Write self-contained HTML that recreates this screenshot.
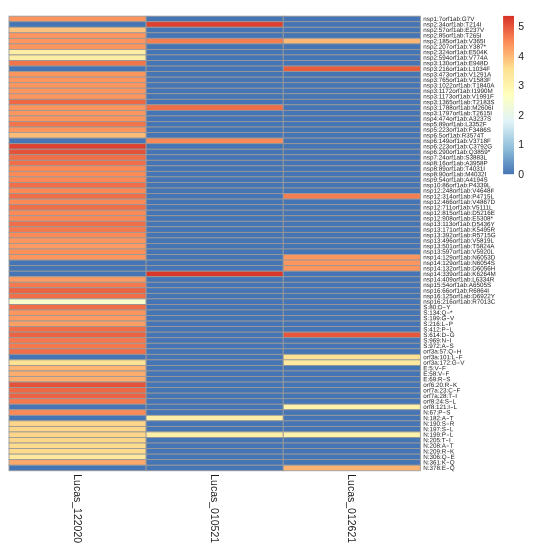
<!DOCTYPE html>
<html lang="en">
<head>
<meta charset="utf-8">
<title>Heatmap</title>
<style>
html,body{margin:0;padding:0;background:#fff;}
body{width:538px;height:550px;overflow:hidden;}
svg{display:block;}
text{font-family:"Liberation Sans",sans-serif;fill:#1c1c1c;}
.rl{font-size:6.3px;}
.cl{font-size:10.5px;}
.lg{font-size:10.5px;}
</style>
</head>
<body>
<svg width="538" height="550" viewBox="0 0 538 550">
<rect x="0" y="0" width="538" height="550" fill="#ffffff"/>
<g stroke="#999999" stroke-width="0.85">
<rect x="9.00" y="16.15" width="137.12" height="5.54" fill="#FC955E"/>
<rect x="146.12" y="16.15" width="137.12" height="5.54" fill="#4575B4"/>
<rect x="283.23" y="16.15" width="137.12" height="5.54" fill="#4575B4"/>
<rect x="9.00" y="21.69" width="137.12" height="5.54" fill="#4575B4"/>
<rect x="146.12" y="21.69" width="137.12" height="5.54" fill="#DE4130"/>
<rect x="283.23" y="21.69" width="137.12" height="5.54" fill="#4575B4"/>
<rect x="9.00" y="27.24" width="137.12" height="5.54" fill="#FDC27C"/>
<rect x="146.12" y="27.24" width="137.12" height="5.54" fill="#4575B4"/>
<rect x="283.23" y="27.24" width="137.12" height="5.54" fill="#4575B4"/>
<rect x="9.00" y="32.78" width="137.12" height="5.54" fill="#FC955E"/>
<rect x="146.12" y="32.78" width="137.12" height="5.54" fill="#4575B4"/>
<rect x="283.23" y="32.78" width="137.12" height="5.54" fill="#4575B4"/>
<rect x="9.00" y="38.33" width="137.12" height="5.54" fill="#FC955E"/>
<rect x="146.12" y="38.33" width="137.12" height="5.54" fill="#F67F51"/>
<rect x="283.23" y="38.33" width="137.12" height="5.54" fill="#FDB875"/>
<rect x="9.00" y="43.87" width="137.12" height="5.54" fill="#FC955E"/>
<rect x="146.12" y="43.87" width="137.12" height="5.54" fill="#4575B4"/>
<rect x="283.23" y="43.87" width="137.12" height="5.54" fill="#4575B4"/>
<rect x="9.00" y="49.41" width="137.12" height="5.54" fill="#FEEDA4"/>
<rect x="146.12" y="49.41" width="137.12" height="5.54" fill="#4575B4"/>
<rect x="283.23" y="49.41" width="137.12" height="5.54" fill="#4575B4"/>
<rect x="9.00" y="54.96" width="137.12" height="5.54" fill="#FEEDA4"/>
<rect x="146.12" y="54.96" width="137.12" height="5.54" fill="#4575B4"/>
<rect x="283.23" y="54.96" width="137.12" height="5.54" fill="#4575B4"/>
<rect x="9.00" y="60.50" width="137.12" height="5.54" fill="#F2744B"/>
<rect x="146.12" y="60.50" width="137.12" height="5.54" fill="#4575B4"/>
<rect x="283.23" y="60.50" width="137.12" height="5.54" fill="#4575B4"/>
<rect x="9.00" y="66.05" width="137.12" height="5.54" fill="#4575B4"/>
<rect x="146.12" y="66.05" width="137.12" height="5.54" fill="#4575B4"/>
<rect x="283.23" y="66.05" width="137.12" height="5.54" fill="#E95D3F"/>
<rect x="9.00" y="71.59" width="137.12" height="5.54" fill="#FC955E"/>
<rect x="146.12" y="71.59" width="137.12" height="5.54" fill="#4575B4"/>
<rect x="283.23" y="71.59" width="137.12" height="5.54" fill="#4575B4"/>
<rect x="9.00" y="77.13" width="137.12" height="5.54" fill="#FC955E"/>
<rect x="146.12" y="77.13" width="137.12" height="5.54" fill="#4575B4"/>
<rect x="283.23" y="77.13" width="137.12" height="5.54" fill="#4575B4"/>
<rect x="9.00" y="82.68" width="137.12" height="5.54" fill="#FC955E"/>
<rect x="146.12" y="82.68" width="137.12" height="5.54" fill="#4575B4"/>
<rect x="283.23" y="82.68" width="137.12" height="5.54" fill="#4575B4"/>
<rect x="9.00" y="88.22" width="137.12" height="5.54" fill="#FC955E"/>
<rect x="146.12" y="88.22" width="137.12" height="5.54" fill="#4575B4"/>
<rect x="283.23" y="88.22" width="137.12" height="5.54" fill="#4575B4"/>
<rect x="9.00" y="93.77" width="137.12" height="5.54" fill="#FC955E"/>
<rect x="146.12" y="93.77" width="137.12" height="5.54" fill="#4575B4"/>
<rect x="283.23" y="93.77" width="137.12" height="5.54" fill="#4575B4"/>
<rect x="9.00" y="99.31" width="137.12" height="5.54" fill="#ED6845"/>
<rect x="146.12" y="99.31" width="137.12" height="5.54" fill="#4575B4"/>
<rect x="283.23" y="99.31" width="137.12" height="5.54" fill="#4575B4"/>
<rect x="9.00" y="104.85" width="137.12" height="5.54" fill="#FC955E"/>
<rect x="146.12" y="104.85" width="137.12" height="5.54" fill="#F06E48"/>
<rect x="283.23" y="104.85" width="137.12" height="5.54" fill="#4575B4"/>
<rect x="9.00" y="110.40" width="137.12" height="5.54" fill="#FC955E"/>
<rect x="146.12" y="110.40" width="137.12" height="5.54" fill="#4575B4"/>
<rect x="283.23" y="110.40" width="137.12" height="5.54" fill="#4575B4"/>
<rect x="9.00" y="115.94" width="137.12" height="5.54" fill="#FC955E"/>
<rect x="146.12" y="115.94" width="137.12" height="5.54" fill="#4575B4"/>
<rect x="283.23" y="115.94" width="137.12" height="5.54" fill="#4575B4"/>
<rect x="9.00" y="121.49" width="137.12" height="5.54" fill="#F2744B"/>
<rect x="146.12" y="121.49" width="137.12" height="5.54" fill="#4575B4"/>
<rect x="283.23" y="121.49" width="137.12" height="5.54" fill="#4575B4"/>
<rect x="9.00" y="127.03" width="137.12" height="5.54" fill="#FC955E"/>
<rect x="146.12" y="127.03" width="137.12" height="5.54" fill="#4575B4"/>
<rect x="283.23" y="127.03" width="137.12" height="5.54" fill="#4575B4"/>
<rect x="9.00" y="132.57" width="137.12" height="5.54" fill="#FDBD79"/>
<rect x="146.12" y="132.57" width="137.12" height="5.54" fill="#4575B4"/>
<rect x="283.23" y="132.57" width="137.12" height="5.54" fill="#4575B4"/>
<rect x="9.00" y="138.12" width="137.12" height="5.54" fill="#4575B4"/>
<rect x="146.12" y="138.12" width="137.12" height="5.54" fill="#FB8A57"/>
<rect x="283.23" y="138.12" width="137.12" height="5.54" fill="#4575B4"/>
<rect x="9.00" y="143.66" width="137.12" height="5.54" fill="#DE4130"/>
<rect x="146.12" y="143.66" width="137.12" height="5.54" fill="#4575B4"/>
<rect x="283.23" y="143.66" width="137.12" height="5.54" fill="#4575B4"/>
<rect x="9.00" y="149.21" width="137.12" height="5.54" fill="#E45239"/>
<rect x="146.12" y="149.21" width="137.12" height="5.54" fill="#4575B4"/>
<rect x="283.23" y="149.21" width="137.12" height="5.54" fill="#4575B4"/>
<rect x="9.00" y="154.75" width="137.12" height="5.54" fill="#F06E48"/>
<rect x="146.12" y="154.75" width="137.12" height="5.54" fill="#4575B4"/>
<rect x="283.23" y="154.75" width="137.12" height="5.54" fill="#4575B4"/>
<rect x="9.00" y="160.29" width="137.12" height="5.54" fill="#F06E48"/>
<rect x="146.12" y="160.29" width="137.12" height="5.54" fill="#4575B4"/>
<rect x="283.23" y="160.29" width="137.12" height="5.54" fill="#4575B4"/>
<rect x="9.00" y="165.84" width="137.12" height="5.54" fill="#FB8A57"/>
<rect x="146.12" y="165.84" width="137.12" height="5.54" fill="#4575B4"/>
<rect x="283.23" y="165.84" width="137.12" height="5.54" fill="#4575B4"/>
<rect x="9.00" y="171.38" width="137.12" height="5.54" fill="#FB8A57"/>
<rect x="146.12" y="171.38" width="137.12" height="5.54" fill="#4575B4"/>
<rect x="283.23" y="171.38" width="137.12" height="5.54" fill="#4575B4"/>
<rect x="9.00" y="176.93" width="137.12" height="5.54" fill="#FB8A57"/>
<rect x="146.12" y="176.93" width="137.12" height="5.54" fill="#4575B4"/>
<rect x="283.23" y="176.93" width="137.12" height="5.54" fill="#4575B4"/>
<rect x="9.00" y="182.47" width="137.12" height="5.54" fill="#F06E48"/>
<rect x="146.12" y="182.47" width="137.12" height="5.54" fill="#4575B4"/>
<rect x="283.23" y="182.47" width="137.12" height="5.54" fill="#4575B4"/>
<rect x="9.00" y="188.01" width="137.12" height="5.54" fill="#FB8A57"/>
<rect x="146.12" y="188.01" width="137.12" height="5.54" fill="#4575B4"/>
<rect x="283.23" y="188.01" width="137.12" height="5.54" fill="#4575B4"/>
<rect x="9.00" y="193.56" width="137.12" height="5.54" fill="#F06E48"/>
<rect x="146.12" y="193.56" width="137.12" height="5.54" fill="#4575B4"/>
<rect x="283.23" y="193.56" width="137.12" height="5.54" fill="#F67F51"/>
<rect x="9.00" y="199.10" width="137.12" height="5.54" fill="#FB8A57"/>
<rect x="146.12" y="199.10" width="137.12" height="5.54" fill="#4575B4"/>
<rect x="283.23" y="199.10" width="137.12" height="5.54" fill="#4575B4"/>
<rect x="9.00" y="204.65" width="137.12" height="5.54" fill="#F06E48"/>
<rect x="146.12" y="204.65" width="137.12" height="5.54" fill="#4575B4"/>
<rect x="283.23" y="204.65" width="137.12" height="5.54" fill="#4575B4"/>
<rect x="9.00" y="210.19" width="137.12" height="5.54" fill="#FB8A57"/>
<rect x="146.12" y="210.19" width="137.12" height="5.54" fill="#4575B4"/>
<rect x="283.23" y="210.19" width="137.12" height="5.54" fill="#4575B4"/>
<rect x="9.00" y="215.73" width="137.12" height="5.54" fill="#FB8A57"/>
<rect x="146.12" y="215.73" width="137.12" height="5.54" fill="#4575B4"/>
<rect x="283.23" y="215.73" width="137.12" height="5.54" fill="#4575B4"/>
<rect x="9.00" y="221.28" width="137.12" height="5.54" fill="#F06E48"/>
<rect x="146.12" y="221.28" width="137.12" height="5.54" fill="#4575B4"/>
<rect x="283.23" y="221.28" width="137.12" height="5.54" fill="#4575B4"/>
<rect x="9.00" y="226.82" width="137.12" height="5.54" fill="#F4794E"/>
<rect x="146.12" y="226.82" width="137.12" height="5.54" fill="#4575B4"/>
<rect x="283.23" y="226.82" width="137.12" height="5.54" fill="#4575B4"/>
<rect x="9.00" y="232.37" width="137.12" height="5.54" fill="#FB8A57"/>
<rect x="146.12" y="232.37" width="137.12" height="5.54" fill="#4575B4"/>
<rect x="283.23" y="232.37" width="137.12" height="5.54" fill="#4575B4"/>
<rect x="9.00" y="237.91" width="137.12" height="5.54" fill="#FC955E"/>
<rect x="146.12" y="237.91" width="137.12" height="5.54" fill="#4575B4"/>
<rect x="283.23" y="237.91" width="137.12" height="5.54" fill="#4575B4"/>
<rect x="9.00" y="243.46" width="137.12" height="5.54" fill="#FC9A61"/>
<rect x="146.12" y="243.46" width="137.12" height="5.54" fill="#4575B4"/>
<rect x="283.23" y="243.46" width="137.12" height="5.54" fill="#4575B4"/>
<rect x="9.00" y="249.00" width="137.12" height="5.54" fill="#FC905B"/>
<rect x="146.12" y="249.00" width="137.12" height="5.54" fill="#4575B4"/>
<rect x="283.23" y="249.00" width="137.12" height="5.54" fill="#4575B4"/>
<rect x="9.00" y="254.54" width="137.12" height="5.54" fill="#FC955E"/>
<rect x="146.12" y="254.54" width="137.12" height="5.54" fill="#4575B4"/>
<rect x="283.23" y="254.54" width="137.12" height="5.54" fill="#FC955E"/>
<rect x="9.00" y="260.09" width="137.12" height="5.54" fill="#4575B4"/>
<rect x="146.12" y="260.09" width="137.12" height="5.54" fill="#4575B4"/>
<rect x="283.23" y="260.09" width="137.12" height="5.54" fill="#FC955E"/>
<rect x="9.00" y="265.63" width="137.12" height="5.54" fill="#4575B4"/>
<rect x="146.12" y="265.63" width="137.12" height="5.54" fill="#4575B4"/>
<rect x="283.23" y="265.63" width="137.12" height="5.54" fill="#FC955E"/>
<rect x="9.00" y="271.18" width="137.12" height="5.54" fill="#4575B4"/>
<rect x="146.12" y="271.18" width="137.12" height="5.54" fill="#D9362A"/>
<rect x="283.23" y="271.18" width="137.12" height="5.54" fill="#4575B4"/>
<rect x="9.00" y="276.72" width="137.12" height="5.54" fill="#FC9A61"/>
<rect x="146.12" y="276.72" width="137.12" height="5.54" fill="#4575B4"/>
<rect x="283.23" y="276.72" width="137.12" height="5.54" fill="#4575B4"/>
<rect x="9.00" y="282.26" width="137.12" height="5.54" fill="#F4794E"/>
<rect x="146.12" y="282.26" width="137.12" height="5.54" fill="#4575B4"/>
<rect x="283.23" y="282.26" width="137.12" height="5.54" fill="#4575B4"/>
<rect x="9.00" y="287.81" width="137.12" height="5.54" fill="#EB6342"/>
<rect x="146.12" y="287.81" width="137.12" height="5.54" fill="#4575B4"/>
<rect x="283.23" y="287.81" width="137.12" height="5.54" fill="#4575B4"/>
<rect x="9.00" y="293.35" width="137.12" height="5.54" fill="#F06E48"/>
<rect x="146.12" y="293.35" width="137.12" height="5.54" fill="#4575B4"/>
<rect x="283.23" y="293.35" width="137.12" height="5.54" fill="#4575B4"/>
<rect x="9.00" y="298.90" width="137.12" height="5.54" fill="#F8FCCB"/>
<rect x="146.12" y="298.90" width="137.12" height="5.54" fill="#4575B4"/>
<rect x="283.23" y="298.90" width="137.12" height="5.54" fill="#4575B4"/>
<rect x="9.00" y="304.44" width="137.12" height="5.54" fill="#F06E48"/>
<rect x="146.12" y="304.44" width="137.12" height="5.54" fill="#4575B4"/>
<rect x="283.23" y="304.44" width="137.12" height="5.54" fill="#4575B4"/>
<rect x="9.00" y="309.98" width="137.12" height="5.54" fill="#FC955E"/>
<rect x="146.12" y="309.98" width="137.12" height="5.54" fill="#4575B4"/>
<rect x="283.23" y="309.98" width="137.12" height="5.54" fill="#4575B4"/>
<rect x="9.00" y="315.53" width="137.12" height="5.54" fill="#FC9A61"/>
<rect x="146.12" y="315.53" width="137.12" height="5.54" fill="#4575B4"/>
<rect x="283.23" y="315.53" width="137.12" height="5.54" fill="#4575B4"/>
<rect x="9.00" y="321.07" width="137.12" height="5.54" fill="#FC9F65"/>
<rect x="146.12" y="321.07" width="137.12" height="5.54" fill="#4575B4"/>
<rect x="283.23" y="321.07" width="137.12" height="5.54" fill="#4575B4"/>
<rect x="9.00" y="326.62" width="137.12" height="5.54" fill="#F06E48"/>
<rect x="146.12" y="326.62" width="137.12" height="5.54" fill="#4575B4"/>
<rect x="283.23" y="326.62" width="137.12" height="5.54" fill="#4575B4"/>
<rect x="9.00" y="332.16" width="137.12" height="5.54" fill="#EB6342"/>
<rect x="146.12" y="332.16" width="137.12" height="5.54" fill="#4575B4"/>
<rect x="283.23" y="332.16" width="137.12" height="5.54" fill="#E7573C"/>
<rect x="9.00" y="337.70" width="137.12" height="5.54" fill="#F4794E"/>
<rect x="146.12" y="337.70" width="137.12" height="5.54" fill="#4575B4"/>
<rect x="283.23" y="337.70" width="137.12" height="5.54" fill="#4575B4"/>
<rect x="9.00" y="343.25" width="137.12" height="5.54" fill="#F4794E"/>
<rect x="146.12" y="343.25" width="137.12" height="5.54" fill="#4575B4"/>
<rect x="283.23" y="343.25" width="137.12" height="5.54" fill="#4575B4"/>
<rect x="9.00" y="348.79" width="137.12" height="5.54" fill="#F06E48"/>
<rect x="146.12" y="348.79" width="137.12" height="5.54" fill="#4575B4"/>
<rect x="283.23" y="348.79" width="137.12" height="5.54" fill="#4575B4"/>
<rect x="9.00" y="354.34" width="137.12" height="5.54" fill="#4575B4"/>
<rect x="146.12" y="354.34" width="137.12" height="5.54" fill="#4575B4"/>
<rect x="283.23" y="354.34" width="137.12" height="5.54" fill="#FEE293"/>
<rect x="9.00" y="359.88" width="137.12" height="5.54" fill="#FEE293"/>
<rect x="146.12" y="359.88" width="137.12" height="5.54" fill="#4575B4"/>
<rect x="283.23" y="359.88" width="137.12" height="5.54" fill="#FEE99E"/>
<rect x="9.00" y="365.42" width="137.12" height="5.54" fill="#FDB372"/>
<rect x="146.12" y="365.42" width="137.12" height="5.54" fill="#4575B4"/>
<rect x="283.23" y="365.42" width="137.12" height="5.54" fill="#4575B4"/>
<rect x="9.00" y="370.97" width="137.12" height="5.54" fill="#FDAE6F"/>
<rect x="146.12" y="370.97" width="137.12" height="5.54" fill="#4575B4"/>
<rect x="283.23" y="370.97" width="137.12" height="5.54" fill="#4575B4"/>
<rect x="9.00" y="376.51" width="137.12" height="5.54" fill="#FDAE6F"/>
<rect x="146.12" y="376.51" width="137.12" height="5.54" fill="#4575B4"/>
<rect x="283.23" y="376.51" width="137.12" height="5.54" fill="#4575B4"/>
<rect x="9.00" y="382.06" width="137.12" height="5.54" fill="#E45239"/>
<rect x="146.12" y="382.06" width="137.12" height="5.54" fill="#4575B4"/>
<rect x="283.23" y="382.06" width="137.12" height="5.54" fill="#4575B4"/>
<rect x="9.00" y="387.60" width="137.12" height="5.54" fill="#ED6845"/>
<rect x="146.12" y="387.60" width="137.12" height="5.54" fill="#4575B4"/>
<rect x="283.23" y="387.60" width="137.12" height="5.54" fill="#4575B4"/>
<rect x="9.00" y="393.14" width="137.12" height="5.54" fill="#EB6342"/>
<rect x="146.12" y="393.14" width="137.12" height="5.54" fill="#4575B4"/>
<rect x="283.23" y="393.14" width="137.12" height="5.54" fill="#4575B4"/>
<rect x="9.00" y="398.69" width="137.12" height="5.54" fill="#F4794E"/>
<rect x="146.12" y="398.69" width="137.12" height="5.54" fill="#4575B4"/>
<rect x="283.23" y="398.69" width="137.12" height="5.54" fill="#4575B4"/>
<rect x="9.00" y="404.23" width="137.12" height="5.54" fill="#4575B4"/>
<rect x="146.12" y="404.23" width="137.12" height="5.54" fill="#4575B4"/>
<rect x="283.23" y="404.23" width="137.12" height="5.54" fill="#FFF3AC"/>
<rect x="9.00" y="409.78" width="137.12" height="5.54" fill="#FB8A57"/>
<rect x="146.12" y="409.78" width="137.12" height="5.54" fill="#4575B4"/>
<rect x="283.23" y="409.78" width="137.12" height="5.54" fill="#4575B4"/>
<rect x="9.00" y="415.32" width="137.12" height="5.54" fill="#4575B4"/>
<rect x="146.12" y="415.32" width="137.12" height="5.54" fill="#FEEFA7"/>
<rect x="283.23" y="415.32" width="137.12" height="5.54" fill="#4575B4"/>
<rect x="9.00" y="420.86" width="137.12" height="5.54" fill="#FED689"/>
<rect x="146.12" y="420.86" width="137.12" height="5.54" fill="#4575B4"/>
<rect x="283.23" y="420.86" width="137.12" height="5.54" fill="#4575B4"/>
<rect x="9.00" y="426.41" width="137.12" height="5.54" fill="#FED689"/>
<rect x="146.12" y="426.41" width="137.12" height="5.54" fill="#4575B4"/>
<rect x="283.23" y="426.41" width="137.12" height="5.54" fill="#4575B4"/>
<rect x="9.00" y="431.95" width="137.12" height="5.54" fill="#FED689"/>
<rect x="146.12" y="431.95" width="137.12" height="5.54" fill="#FEEFA7"/>
<rect x="283.23" y="431.95" width="137.12" height="5.54" fill="#FFF3AC"/>
<rect x="9.00" y="437.50" width="137.12" height="5.54" fill="#FED689"/>
<rect x="146.12" y="437.50" width="137.12" height="5.54" fill="#4575B4"/>
<rect x="283.23" y="437.50" width="137.12" height="5.54" fill="#4575B4"/>
<rect x="9.00" y="443.04" width="137.12" height="5.54" fill="#FEDB8D"/>
<rect x="146.12" y="443.04" width="137.12" height="5.54" fill="#4575B4"/>
<rect x="283.23" y="443.04" width="137.12" height="5.54" fill="#4575B4"/>
<rect x="9.00" y="448.58" width="137.12" height="5.54" fill="#FEDB8D"/>
<rect x="146.12" y="448.58" width="137.12" height="5.54" fill="#4575B4"/>
<rect x="283.23" y="448.58" width="137.12" height="5.54" fill="#4575B4"/>
<rect x="9.00" y="454.13" width="137.12" height="5.54" fill="#FEE89B"/>
<rect x="146.12" y="454.13" width="137.12" height="5.54" fill="#4575B4"/>
<rect x="283.23" y="454.13" width="137.12" height="5.54" fill="#4575B4"/>
<rect x="9.00" y="459.67" width="137.12" height="5.54" fill="#FDA96B"/>
<rect x="146.12" y="459.67" width="137.12" height="5.54" fill="#4575B4"/>
<rect x="283.23" y="459.67" width="137.12" height="5.54" fill="#4575B4"/>
<rect x="9.00" y="465.22" width="137.12" height="5.54" fill="#4575B4"/>
<rect x="146.12" y="465.22" width="137.12" height="5.54" fill="#4575B4"/>
<rect x="283.23" y="465.22" width="137.12" height="5.54" fill="#FDB372"/>
</g>
<g class="rl">
<text transform="translate(423.3,20.97) rotate(0.03)">nsp1:7orf1ab:G7V</text>
<text transform="translate(423.3,26.52) rotate(0.03)">nsp2:34orf1ab:T214I</text>
<text transform="translate(423.3,32.06) rotate(0.03)">nsp2:57orf1ab:E237V</text>
<text transform="translate(423.3,37.60) rotate(0.03)">nsp2:85orf1ab:T265I</text>
<text transform="translate(423.3,43.15) rotate(0.03)">nsp2:185orf1ab:V365I</text>
<text transform="translate(423.3,48.69) rotate(0.03)">nsp2:207orf1ab:Y387*</text>
<text transform="translate(423.3,54.24) rotate(0.03)">nsp2:324orf1ab:E504K</text>
<text transform="translate(423.3,59.78) rotate(0.03)">nsp2:594orf1ab:V774A</text>
<text transform="translate(423.3,65.32) rotate(0.03)">nsp3:130orf1ab:E948D</text>
<text transform="translate(423.3,70.87) rotate(0.03)">nsp3:216orf1ab:L1034F</text>
<text transform="translate(423.3,76.41) rotate(0.03)">nsp3:473orf1ab:V1291A</text>
<text transform="translate(423.3,81.96) rotate(0.03)">nsp3:765orf1ab:V1583F</text>
<text transform="translate(423.3,87.50) rotate(0.03)">nsp3:1022orf1ab:T1840A</text>
<text transform="translate(423.3,93.04) rotate(0.03)">nsp3:1172orf1ab:I1990M</text>
<text transform="translate(423.3,98.59) rotate(0.03)">nsp3:1173orf1ab:V1991F</text>
<text transform="translate(423.3,104.13) rotate(0.03)">nsp3:1365orf1ab:T2183S</text>
<text transform="translate(423.3,109.68) rotate(0.03)">nsp3:1788orf1ab:M2606I</text>
<text transform="translate(423.3,115.22) rotate(0.03)">nsp3:1797orf1ab:T2615I</text>
<text transform="translate(423.3,120.76) rotate(0.03)">nsp4:474orf1ab:A3237S</text>
<text transform="translate(423.3,126.31) rotate(0.03)">nsp5:89orf1ab:L3352F</text>
<text transform="translate(423.3,131.85) rotate(0.03)">nsp5:223orf1ab:F3486S</text>
<text transform="translate(423.3,137.40) rotate(0.03)">nsp6:5orf1ab:R3574T</text>
<text transform="translate(423.3,142.94) rotate(0.03)">nsp6:149orf1ab:V3718F</text>
<text transform="translate(423.3,148.48) rotate(0.03)">nsp6:223orf1ab:C3792G</text>
<text transform="translate(423.3,154.03) rotate(0.03)">nsp6:290orf1ab:Q3859*</text>
<text transform="translate(423.3,159.57) rotate(0.03)">nsp7:24orf1ab:S3883L</text>
<text transform="translate(423.3,165.12) rotate(0.03)">nsp8:16orf1ab:A3958P</text>
<text transform="translate(423.3,170.66) rotate(0.03)">nsp8:89orf1ab:T4031I</text>
<text transform="translate(423.3,176.20) rotate(0.03)">nsp8:90orf1ab:M4032I</text>
<text transform="translate(423.3,181.75) rotate(0.03)">nsp9:54orf1ab:A4194S</text>
<text transform="translate(423.3,187.29) rotate(0.03)">nsp10:86orf1ab:P4339L</text>
<text transform="translate(423.3,192.84) rotate(0.03)">nsp12:248orf1ab:V4648F</text>
<text transform="translate(423.3,198.38) rotate(0.03)">nsp12:314orf1ab:P4715L</text>
<text transform="translate(423.3,203.92) rotate(0.03)">nsp12:466orf1ab:V4867D</text>
<text transform="translate(423.3,209.47) rotate(0.03)">nsp12:711orf1ab:V5111L</text>
<text transform="translate(423.3,215.01) rotate(0.03)">nsp12:815orf1ab:D5216E</text>
<text transform="translate(423.3,220.56) rotate(0.03)">nsp12:908orf1ab:E5308*</text>
<text transform="translate(423.3,226.10) rotate(0.03)">nsp13:113orf1ab:D5436Y</text>
<text transform="translate(423.3,231.64) rotate(0.03)">nsp13:171orf1ab:K5495R</text>
<text transform="translate(423.3,237.19) rotate(0.03)">nsp13:392orf1ab:R5715G</text>
<text transform="translate(423.3,242.73) rotate(0.03)">nsp13:496orf1ab:V5819L</text>
<text transform="translate(423.3,248.28) rotate(0.03)">nsp13:501orf1ab:T5824A</text>
<text transform="translate(423.3,253.82) rotate(0.03)">nsp13:597orf1ab:V5920L</text>
<text transform="translate(423.3,259.37) rotate(0.03)">nsp14:129orf1ab:N6053D</text>
<text transform="translate(423.3,264.91) rotate(0.03)">nsp14:129orf1ab:N6054S</text>
<text transform="translate(423.3,270.45) rotate(0.03)">nsp14:132orf1ab:D6056H</text>
<text transform="translate(423.3,276.00) rotate(0.03)">nsp14:339orf1ab:K6264M</text>
<text transform="translate(423.3,281.54) rotate(0.03)">nsp14:409orf1ab:L6334R</text>
<text transform="translate(423.3,287.09) rotate(0.03)">nsp15:54orf1ab:A6505S</text>
<text transform="translate(423.3,292.63) rotate(0.03)">nsp16:66orf1ab:R6864I</text>
<text transform="translate(423.3,298.17) rotate(0.03)">nsp16:125orf1ab:D6922Y</text>
<text transform="translate(423.3,303.72) rotate(0.03)">nsp16:216orf1ab:R7013C</text>
<text transform="translate(423.3,309.26) rotate(0.03)">S:80:D<tspan dx="0.25" textLength="3.2" lengthAdjust="spacingAndGlyphs">-</tspan><tspan dx="0.25">Y</tspan></text>
<text transform="translate(423.3,314.81) rotate(0.03)">S:134:Q<tspan dx="0.25" textLength="3.2" lengthAdjust="spacingAndGlyphs">-</tspan><tspan dx="0.25">*</tspan></text>
<text transform="translate(423.3,320.35) rotate(0.03)">S:199:G<tspan dx="0.25" textLength="3.2" lengthAdjust="spacingAndGlyphs">-</tspan><tspan dx="0.25">V</tspan></text>
<text transform="translate(423.3,325.89) rotate(0.03)">S:216:L<tspan dx="0.25" textLength="3.2" lengthAdjust="spacingAndGlyphs">-</tspan><tspan dx="0.25">P</tspan></text>
<text transform="translate(423.3,331.44) rotate(0.03)">S:412:P<tspan dx="0.25" textLength="3.2" lengthAdjust="spacingAndGlyphs">-</tspan><tspan dx="0.25">L</tspan></text>
<text transform="translate(423.3,336.98) rotate(0.03)">S:614:D<tspan dx="0.25" textLength="3.2" lengthAdjust="spacingAndGlyphs">-</tspan><tspan dx="0.25">G</tspan></text>
<text transform="translate(423.3,342.53) rotate(0.03)">S:969:N<tspan dx="0.25" textLength="3.2" lengthAdjust="spacingAndGlyphs">-</tspan><tspan dx="0.25">I</tspan></text>
<text transform="translate(423.3,348.07) rotate(0.03)">S:972:A<tspan dx="0.25" textLength="3.2" lengthAdjust="spacingAndGlyphs">-</tspan><tspan dx="0.25">S</tspan></text>
<text transform="translate(423.3,353.61) rotate(0.03)">orf3a:57:Q<tspan dx="0.25" textLength="3.2" lengthAdjust="spacingAndGlyphs">-</tspan><tspan dx="0.25">H</tspan></text>
<text transform="translate(423.3,359.16) rotate(0.03)">orf3a:101:L<tspan dx="0.25" textLength="3.2" lengthAdjust="spacingAndGlyphs">-</tspan><tspan dx="0.25">F</tspan></text>
<text transform="translate(423.3,364.70) rotate(0.03)">orf3a:172:G<tspan dx="0.25" textLength="3.2" lengthAdjust="spacingAndGlyphs">-</tspan><tspan dx="0.25">V</tspan></text>
<text transform="translate(423.3,370.25) rotate(0.03)">E:5:V<tspan dx="0.25" textLength="3.2" lengthAdjust="spacingAndGlyphs">-</tspan><tspan dx="0.25">F</tspan></text>
<text transform="translate(423.3,375.79) rotate(0.03)">E:58:V<tspan dx="0.25" textLength="3.2" lengthAdjust="spacingAndGlyphs">-</tspan><tspan dx="0.25">F</tspan></text>
<text transform="translate(423.3,381.33) rotate(0.03)">E:69:R<tspan dx="0.25" textLength="3.2" lengthAdjust="spacingAndGlyphs">-</tspan><tspan dx="0.25">S</tspan></text>
<text transform="translate(423.3,386.88) rotate(0.03)">orf6:20:R<tspan dx="0.25" textLength="3.2" lengthAdjust="spacingAndGlyphs">-</tspan><tspan dx="0.25">K</tspan></text>
<text transform="translate(423.3,392.42) rotate(0.03)">orf7a:23:C<tspan dx="0.25" textLength="3.2" lengthAdjust="spacingAndGlyphs">-</tspan><tspan dx="0.25">F</tspan></text>
<text transform="translate(423.3,397.97) rotate(0.03)">orf7a:28:T<tspan dx="0.25" textLength="3.2" lengthAdjust="spacingAndGlyphs">-</tspan><tspan dx="0.25">I</tspan></text>
<text transform="translate(423.3,403.51) rotate(0.03)">orf8:24:S<tspan dx="0.25" textLength="3.2" lengthAdjust="spacingAndGlyphs">-</tspan><tspan dx="0.25">L</tspan></text>
<text transform="translate(423.3,409.05) rotate(0.03)">orf8:121:I<tspan dx="0.25" textLength="3.2" lengthAdjust="spacingAndGlyphs">-</tspan><tspan dx="0.25">L</tspan></text>
<text transform="translate(423.3,414.60) rotate(0.03)">N:67:P<tspan dx="0.25" textLength="3.2" lengthAdjust="spacingAndGlyphs">-</tspan><tspan dx="0.25">S</tspan></text>
<text transform="translate(423.3,420.14) rotate(0.03)">N:182:A<tspan dx="0.25" textLength="3.2" lengthAdjust="spacingAndGlyphs">-</tspan><tspan dx="0.25">T</tspan></text>
<text transform="translate(423.3,425.69) rotate(0.03)">N:190:S<tspan dx="0.25" textLength="3.2" lengthAdjust="spacingAndGlyphs">-</tspan><tspan dx="0.25">R</tspan></text>
<text transform="translate(423.3,431.23) rotate(0.03)">N:197:S<tspan dx="0.25" textLength="3.2" lengthAdjust="spacingAndGlyphs">-</tspan><tspan dx="0.25">L</tspan></text>
<text transform="translate(423.3,436.77) rotate(0.03)">N:199:P<tspan dx="0.25" textLength="3.2" lengthAdjust="spacingAndGlyphs">-</tspan><tspan dx="0.25">L</tspan></text>
<text transform="translate(423.3,442.32) rotate(0.03)">N:205:T<tspan dx="0.25" textLength="3.2" lengthAdjust="spacingAndGlyphs">-</tspan><tspan dx="0.25">I</tspan></text>
<text transform="translate(423.3,447.86) rotate(0.03)">N:208:A<tspan dx="0.25" textLength="3.2" lengthAdjust="spacingAndGlyphs">-</tspan><tspan dx="0.25">T</tspan></text>
<text transform="translate(423.3,453.41) rotate(0.03)">N:209:R<tspan dx="0.25" textLength="3.2" lengthAdjust="spacingAndGlyphs">-</tspan><tspan dx="0.25">K</tspan></text>
<text transform="translate(423.3,458.95) rotate(0.03)">N:306:Q<tspan dx="0.25" textLength="3.2" lengthAdjust="spacingAndGlyphs">-</tspan><tspan dx="0.25">E</tspan></text>
<text transform="translate(423.3,464.49) rotate(0.03)">N:361:K<tspan dx="0.25" textLength="3.2" lengthAdjust="spacingAndGlyphs">-</tspan><tspan dx="0.25">Q</tspan></text>
<text transform="translate(423.3,470.04) rotate(0.03)">N:378:E<tspan dx="0.25" textLength="3.2" lengthAdjust="spacingAndGlyphs">-</tspan><tspan dx="0.25">Q</tspan></text>
</g>
<g class="cl">
<text transform="translate(77.56,474.2) rotate(90)" x="0" y="3.7">Lucas_122020</text>
<text transform="translate(214.68,474.2) rotate(90)" x="0" y="3.7">Lucas_010521</text>
<text transform="translate(351.79,474.2) rotate(90)" x="0" y="3.7">Lucas_012621</text>
</g>
<defs><linearGradient id="lg" x1="0" y1="1" x2="0" y2="0">
<stop offset="0.0000" stop-color="#4575B4"/>
<stop offset="0.1667" stop-color="#91BFDB"/>
<stop offset="0.3333" stop-color="#E0F3F8"/>
<stop offset="0.5000" stop-color="#FFFFBF"/>
<stop offset="0.6667" stop-color="#FEE090"/>
<stop offset="0.8333" stop-color="#FC8D59"/>
<stop offset="1.0000" stop-color="#D73027"/>
</linearGradient></defs>
<rect x="503.10" y="15.90" width="10.90" height="158.30" fill="url(#lg)"/>
<g class="lg">
<text x="518.3" y="177.85">0</text>
<text x="518.3" y="148.35">1</text>
<text x="518.3" y="118.85">2</text>
<text x="518.3" y="89.15">3</text>
<text x="518.3" y="60.05">4</text>
<text x="518.3" y="29.65">5</text>
</g>
</svg>
</body>
</html>
